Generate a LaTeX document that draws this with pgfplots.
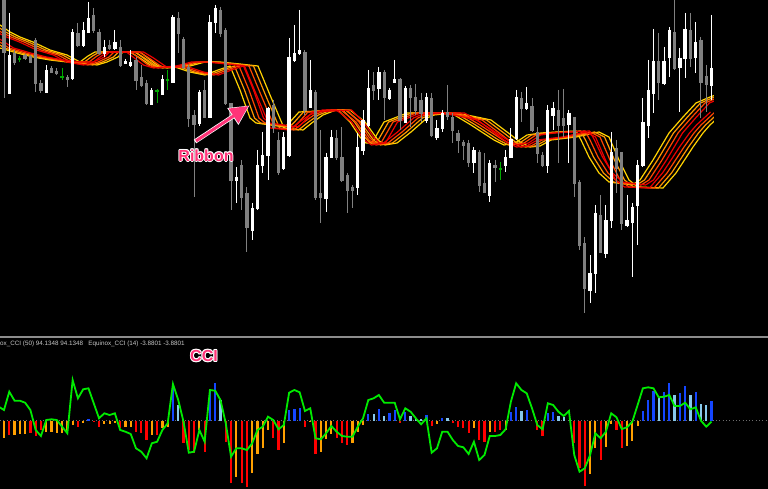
\documentclass[border=0pt]{standalone}
\usepackage{pgfplots}
\pgfplotsset{compat=1.18}
\usepackage{pgfplotstable}
\usepackage{fontspec}
\setmainfont{Liberation Sans}
\usetikzlibrary{arrows.meta}

\definecolor{greyc}{RGB}{128,128,128}
\definecolor{greenc}{RGB}{0,170,0}
\definecolor{yel}{RGB}{255,210,0}
\definecolor{ora}{RGB}{255,150,0}
\definecolor{redo}{RGB}{255,70,0}
\definecolor{redc}{RGB}{235,0,0}
\definecolor{barblue}{RGB}{20,70,255}
\definecolor{barlight}{RGB}{135,200,235}
\definecolor{barred}{RGB}{255,0,0}
\definecolor{barora}{RGB}{255,160,0}
\definecolor{cciline}{RGB}{0,235,0}
\definecolor{pinkc}{RGB}{255,52,120}
\definecolor{sepc}{RGB}{140,140,140}
\definecolor{zeroc}{RGB}{110,110,110}
\definecolor{txtc}{RGB}{200,200,200}

% candles: index, high, body top, body bottom, low (pixel rows)
\pgfplotstableread{
i hi bt bb lo
1 13 55 93 94
8 65 70 92 93
13 29 32 78 80
15 22 30 45 47
16 2 18 32 33
19 40 47 53 57
21 30 42 48 50
23 59 61 63 64
24 50 62 65 67
28 88 90 104 105
30 75 79 94 95
32 15 17 82 83
37 90 92 123 126
39 15 22 117 118
40 5 8 22 33
44 167 177 180 203
47 203 208 230 240
48 150 165 208 210
49 132 155 165 173
50 107 108 155 180
53 132 137 168 170
54 38 57 155 157
55 25 53 60 62
56 10 50 53 55
58 60 90 107 108
61 153 157 198 212
62 130 137 157 158
67 133 147 187 195
68 110 120 150 155
69 70 88 125 127
71 67 72 88 100
73 88 90 98 100
74 60 79 82 83
76 86 88 122 123
80 93 97 120 123
82 120 128 137 140
83 110 113 128 132
89 147 150 162 173
92 160 163 195 202
95 150 157 165 172
96 128 139 157 158
97 90 97 138 140
99 87 103 108 110
103 105 110 165 173
104 102 108 115 130
107 110 113 124 163
111 255 273 290 303
112 205 213 273 293
114 205 220 253 258
115 132 152 220 228
118 195 220 225 227
119 203 207 222 277
120 160 165 205 245
121 98 122 165 167
122 60 90 125 138
123 29 61 93 113
125 47 61 83 85
126 27 30 57 77
128 48 58 67 112
129 13 29 58 78
131 22 42 57 73
134 15 68 85 100
}\whiteC

\pgfplotstableread{
i hi bt bb lo
-1 70 75 88 95
0 0 0 52 98
2 50 53 62 65
4 54 55 58 60
5 55 56 62 63
6 38 40 83 92
7 80 83 90 93
9 66 68 72 73
10 68 71 73 75
12 75 77 79 87
14 23 33 45 47
17 8 15 30 33
18 29 32 53 55
20 40 45 48 50
22 40 47 65 67
25 57 60 80 90
26 65 77 85 87
27 80 83 103 105
33 12 18 33 53
34 37 39 67 69
35 65 67 118 127
36 110 115 124 197
38 80 90 117 118
41 7 10 33 37
42 28 30 103 105
43 103 103 180 210
45 160 165 197 210
46 187 193 227 252
51 100 105 127 133
52 132 140 172 175
57 50 52 110 115
59 90 92 197 200
60 130 193 197 223
63 130 138 157 160
64 127 157 180 182
65 173 175 190 213
66 185 187 190 208
70 72 85 90 100
72 70 72 97 120
75 78 79 120 130
77 85 88 97 127
78 84 97 110 115
79 93 100 113 122
81 93 98 135 137
84 85 112 116 120
85 113 117 130 143
86 130 133 140 153
87 140 142 145 160
88 140 143 162 167
90 150 152 185 192
91 153 183 192 193
93 160 165 167 182
98 92 98 108 122
100 98 106 130 132
101 127 132 153 163
102 152 155 165 167
105 90 110 125 163
106 89 118 125 137
108 117 117 183 197
109 180 182 245 250
110 237 243 288 313
113 195 215 252 253
116 140 148 168 193
117 152 152 223 230
124 33 61 82 100
127 0 32 68 70
130 13 30 58 67
132 37 40 82 118
133 65 76 84 112
}\greyC

\pgfplotstableread{
i hi bt bb lo
3 56 58 59 62
11 68 76 77 80
29 89 90 91 103
31 70 79 80 90
94 162 168 169 180
}\greenC

% ribbon: fastest (L) and slowest (T) averages
\pgfplotstableread{
x y
-60 15
-40 22
-20 35
0 48
17 53
33 57
50 60
67 62
80 62
88 56
95 52
130 52
140 58
153 67
175 67
190 72
205 75
218 70
230 66
240 90
250 118
256 123
285 127
290 122
299 112
338 110
350 122
360 137
366 143
372 143
384 122
397 117
407 113
451 113
471 125
494 140
504 145
515 143
527 135
541 133
557 132
576 131
581 140
589 157
599 173
609 182
632 185
640 180
653 160
669 133
683 117
696 103
710 97
724 92
}\ribL

\pgfplotstableread{
x y
-60 5
-30 18
0 25
10 32
20 37
33 42
50 50
67 55
80 62
97 65
107 62
118 57
123 52
140 52
157 65
167 68
190 66
205 62
220 62
240 64
258 66
270 95
284 128
303 130
313 122
323 115
336 110
350 110
365 122
378 140
385 145
397 143
411 132
427 118
434 115
451 113
467 115
491 120
511 135
520 142
530 147
540 146
551 140
576 137
599 132
609 137
619 160
629 180
638 187
663 188
676 173
693 147
703 133
710 125
724 112
}\ribT

% CCI(50) histogram, end of each bar (pixel row; zero at 420.7)
\pgfplotstableread{
i v
16 419
32 385
39 390
40 383
54 410
55 409
56 408.3
69 414
71 409
73 413.3
74 410
76 411.7
80 415
83 418.3
96 412
97 406.7
99 410
103 413.3
104 411.7
121 410.7
122 400
123 391
125 391.7
126 383.3
128 393.3
129 386
131 391.7
134 401
}\blueB

\pgfplotstableread{
i v
33 405
41 400
70 414
72 416
77 416
78 419.3
79 419.3
84 418.3
98 411
105 416
106 416.7
124 396.7
127 395
130 395
132 404
133 405
}\lightB

\pgfplotstableread{
i v
1 435
5 433
6 436
7 430
14 427
17 422
18 427
22 428
25 432
26 433
27 440
29 435
34 443
35 450
36 453
38 452
42 442
43 483
45 483
46 487
51 438.3
52 450
57 427.3
59 454
63 438.3
64 443.3
65 445
75 422.7
81 426
85 423.3
86 427.3
87 428.3
88 432.7
90 440
91 441.7
93 431.7
94 430
101 430
102 436
108 443.3
109 468.3
110 486
113 460
116 430
117 448.3
}\redB

\pgfplotstableread{
i v
0 438
2 435
3 434
4 434
8 432
9 432
10 433
11 433
12 433
13 425
15 423
19 424
20 424
21 423
23 427
24 427
28 435
30 428
31 427
37 430
44 477
47 473
48 454
49 448.3
50 430
53 443.3
58 421.7
60 451.7
61 439.3
62 434
66 443.3
67 431.7
68 425
82 424
89 428.3
92 431.7
95 430
111 474
112 448.3
114 447.3
115 424
118 446
119 440.7
120 426
}\oraB

% CCI(14) line
\pgfplotstableread{
i v
-1 406.7
0 410
1 391.7
2 400.7
3 400.7
4 402.7
5 410
6 430
7 436
8 420
9 419.3
10 420
11 426.7
12 433.3
13 380
14 398.3
15 389.3
16 388.3
17 403.3
18 418.3
19 413.3
20 415
21 413.3
22 430
23 431.7
24 434
25 448.3
26 451.7
27 458.3
28 443.3
29 441.7
30 430
31 423.3
32 384
33 400
34 421.7
35 452.7
36 451.7
37 430
38 441.7
39 390
40 390.7
41 400
42 423.3
43 456.7
44 448.3
45 448.3
46 450
47 443.3
48 430
49 426.7
50 416.7
51 420
52 429.3
53 425
54 392.7
55 390
56 392.3
57 411
58 408.3
59 438.3
60 439.3
61 433.3
62 426
63 431.7
64 436
65 436.7
66 436.7
67 426.7
68 418.3
69 400
70 398.3
71 395
72 402.7
73 402.7
74 402.7
75 419.3
76 408.3
77 411.7
78 418.3
79 424.3
80 418.3
81 452.7
82 448.3
83 431.7
84 431.7
85 440
86 446
87 447.3
88 454
89 441.7
90 460
91 455
92 436
93 436
94 435
95 429.3
96 401.7
97 383.3
98 390
99 393.3
100 408.3
101 425
102 429.3
103 403.3
104 405
105 411.7
106 416
107 411
108 455
109 471.7
110 468.3
111 455
112 433.3
113 438.3
114 431.7
115 413.3
116 417.3
117 429
118 427.3
119 421.7
120 405
121 388.3
122 387.3
123 388.3
124 397.3
125 396.7
126 395
127 406
128 406
129 402.7
130 409.3
131 407.3
132 420.7
133 426.7
134 421.7
}\cciL

\newcommand{\labfont}{\fontsize{16}{18}\selectfont\bfseries}
\newcommand{\pinktext}[3]{%
\node[text=white,font=\labfont,xshift=0.9pt] at (axis cs:#1,#2) {#3};
\node[text=white,font=\labfont,xshift=-0.9pt] at (axis cs:#1,#2) {#3};
\node[text=white,font=\labfont,yshift=0.9pt] at (axis cs:#1,#2) {#3};
\node[text=white,font=\labfont,yshift=-0.9pt] at (axis cs:#1,#2) {#3};
\node[text=white,font=\labfont,xshift=0.65pt,yshift=0.65pt] at (axis cs:#1,#2) {#3};
\node[text=white,font=\labfont,xshift=-0.65pt,yshift=0.65pt] at (axis cs:#1,#2) {#3};
\node[text=white,font=\labfont,xshift=0.65pt,yshift=-0.65pt] at (axis cs:#1,#2) {#3};
\node[text=white,font=\labfont,xshift=-0.65pt,yshift=-0.65pt] at (axis cs:#1,#2) {#3};
\node[text=pinkc,font=\labfont] at (axis cs:#1,#2) {#3};
}

\begin{document}
\begin{tikzpicture}
\fill[black] (0,0) rectangle (768pt,489pt);
\begin{axis}[
  at={(0,0)}, anchor=south west,
  width=768pt, height=489pt, scale only axis,
  xmin=0, xmax=768, ymin=0, ymax=489, y dir=reverse,
  hide axis,
]
% ribbon
\addplot[yel, line width=1.2pt] table[x=x, y=y] {\ribL};
\addplot[yel, line width=1.2pt] table[x=x, y=y] {\ribT};
\addplot[ora, line width=1.2pt] table[x expr=\thisrow{x}+4.5, y=y] {\ribL};
\addplot[ora, line width=1.2pt] table[x expr=\thisrow{x}-4.5, y=y] {\ribT};
\addplot[redo, line width=1.2pt] table[x expr=\thisrow{x}+9, y=y] {\ribL};
\addplot[redo, line width=1.2pt] table[x expr=\thisrow{x}-9, y=y] {\ribT};
\addplot[redc, line width=1.2pt] table[x expr=\thisrow{x}+13.5, y=y] {\ribL};
\addplot[redc, line width=1.2pt] table[x expr=\thisrow{x}-13.5, y=y] {\ribT};
\fill[black] (axis cs:713.6,0) rectangle (axis cs:768,334);

% candles: wicks then bodies
\addplot[draw=greyc, line width=1pt, quiver={u=0, v=\thisrow{lo}-\thisrow{hi}}] table[x expr=4+5.28*\thisrow{i}, y=hi] {\greyC};
\addplot[draw=greyc, line width=3.3pt, quiver={u=0, v=\thisrow{bb}-\thisrow{bt}+1}] table[x expr=4+5.28*\thisrow{i}, y=bt] {\greyC};
\addplot[draw=white, line width=1pt, quiver={u=0, v=\thisrow{lo}-\thisrow{hi}}] table[x expr=4+5.28*\thisrow{i}, y=hi] {\whiteC};
\addplot[draw=white, line width=3.3pt, quiver={u=0, v=\thisrow{bb}-\thisrow{bt}+1}] table[x expr=4+5.28*\thisrow{i}, y=bt] {\whiteC};
\addplot[draw=greenc, line width=1pt, quiver={u=0, v=\thisrow{lo}-\thisrow{hi}}] table[x expr=4+5.28*\thisrow{i}, y=hi] {\greenC};
\addplot[draw=greenc, line width=3.3pt, quiver={u=0, v=\thisrow{bb}-\thisrow{bt}+1}] table[x expr=4+5.28*\thisrow{i}, y=bt] {\greenC};

% separator and zero line
\draw[sepc, line width=2pt] (axis cs:0,337) -- (axis cs:768,337);
\draw[zeroc, line width=1pt, dash pattern=on 1pt off 2.3pt] (axis cs:0,420.7) -- (axis cs:768,420.7);

% CCI histogram
\addplot[draw=barblue, line width=2.2pt, quiver={u=0, v=\thisrow{v}-420.7}] table[x expr=4+5.28*\thisrow{i}, y expr=420.7] {\blueB};
\addplot[draw=barlight, line width=2.2pt, quiver={u=0, v=\thisrow{v}-420.7}] table[x expr=4+5.28*\thisrow{i}, y expr=420.7] {\lightB};
\addplot[draw=barred, line width=2.2pt, quiver={u=0, v=\thisrow{v}-420.7}] table[x expr=4+5.28*\thisrow{i}, y expr=420.7] {\redB};
\addplot[draw=barora, line width=2.2pt, quiver={u=0, v=\thisrow{v}-420.7}] table[x expr=4+5.28*\thisrow{i}, y expr=420.7] {\oraB};
% CCI line
\addplot[cciline, line width=1.8pt] table[x expr=4+5.28*\thisrow{i}, y=v] {\cciL};

% header text
\node[anchor=west, text=txtc, font=\fontsize{6.3}{7}\selectfont, inner sep=0pt] at (axis cs:0,344) {ox\_CCI (50) 94.1348 94.1348\ \ \ Equinox\_CCI (14) -3.8801 -3.8801};

% annotations
\draw[white, line width=4.4pt, -{Triangle[length=20pt,width=19pt]}] (axis cs:195,141.5) -- (axis cs:249.5,105.5);
\draw[pinkc, line width=3pt, -{Triangle[length=18pt,width=17pt]}] (axis cs:196,141) -- (axis cs:248.5,106);
\pinktext{206}{155.5}{Ribbon}
\pinktext{204}{356}{CCI}
\end{axis}
\end{tikzpicture}
\end{document}
